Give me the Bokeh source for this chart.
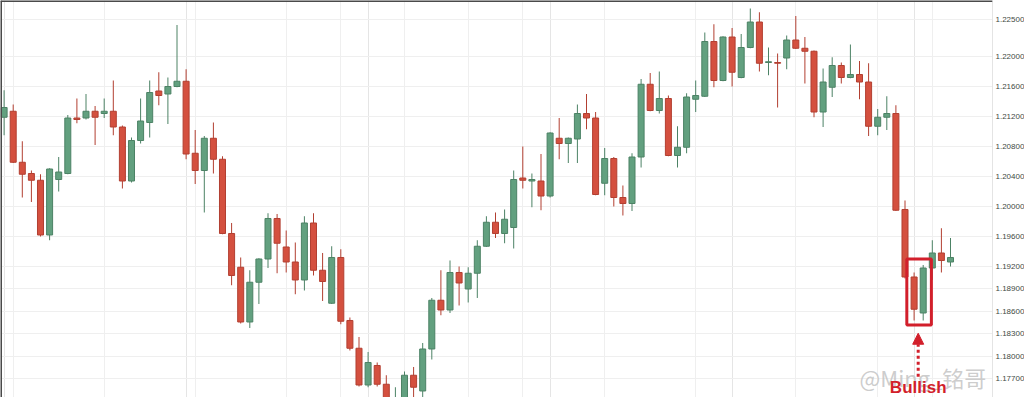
from bokeh.plotting import figure
from bokeh.models import (Range1d, FixedTicker, Grid, Span, Arrow, NormalHead,
                          BoxAnnotation, Label, NumeralTickFormatter, ColumnDataSource)
from bokeh.embed import file_html
from bokeh.resources import INLINE

# ---- data (EUR/USD style daily candles) ----
opens = [1.2119, 1.2127, 1.2059, 1.2044, 1.2035, 1.1962, 1.2036, 1.2044, 1.2118, 1.2118,
         1.2127, 1.2124, 1.2127, 1.2106, 1.2034, 1.2088, 1.2112, 1.2154, 1.2150, 1.2160,
         1.2167, 1.2071, 1.2048, 1.2091, 1.2063, 1.1964, 1.1919, 1.1846, 1.1899, 1.1930,
         1.1984, 1.1946, 1.1926, 1.1902, 1.1978, 1.1915, 1.1871, 1.1932, 1.1848, 1.1811,
         1.1762, 1.1788, 1.1763, 1.1731, 1.1739, 1.1775, 1.1754, 1.1810, 1.1875, 1.1862,
         1.1912, 1.1890, 1.1911, 1.1947, 1.1979, 1.1964, 1.1972, 1.2038, 1.2034, 1.2034,
         1.2014, 1.2091, 1.2084, 1.2090, 1.2124, 1.2118, 1.2031, 1.2064, 1.2012, 1.2004,
         1.2066, 1.2163, 1.2128, 1.2144, 1.2068, 1.2079, 1.2143, 1.2147, 1.2220, 1.2168,
         1.2226, 1.2172, 1.2212, 1.2246, 1.2192, 1.2192, 1.2198, 1.2222, 1.2211, 1.2207,
         1.2126, 1.2159, 1.2188, 1.2172, 1.2176, 1.2166, 1.2107, 1.2119, 1.2124, 1.1996,
         1.1906, 1.1858, 1.1918, 1.1938, 1.1926]

highs = [1.2155, 1.2136, 1.2087, 1.2048, 1.2043, 1.2051, 1.2066, 1.2122, 1.2144, 1.2150,
         1.2134, 1.2144, 1.2168, 1.2108, 1.2092, 1.2144, 1.2168, 1.2179, 1.2172, 1.2242,
         1.2183, 1.2102, 1.2094, 1.2112, 1.2067, 1.1978, 1.1932, 1.1915, 1.1931, 1.1991,
         1.1990, 1.1968, 1.1952, 1.1987, 1.1991, 1.1938, 1.1947, 1.1943, 1.1852, 1.1826,
         1.1806, 1.1792, 1.1775, 1.1759, 1.1780, 1.1786, 1.1818, 1.1878, 1.1915, 1.1928,
         1.1920, 1.1919, 1.1955, 1.1987, 1.1992, 1.1996, 1.2048, 1.2080, 1.2044, 1.2070,
         1.2099, 1.2118, 1.2092, 1.2136, 1.2150, 1.2126, 1.2078, 1.2066, 1.2028, 1.2071,
         1.2170, 1.2178, 1.2180, 1.2148, 1.2107, 1.2151, 1.2168, 1.2232, 1.2243, 1.2227,
         1.2238, 1.2230, 1.2264, 1.2259, 1.2212, 1.2204, 1.2228, 1.2254, 1.2226, 1.2208,
         1.2184, 1.2199, 1.2192, 1.2216, 1.2194, 1.2191, 1.2130, 1.2147, 1.2135, 1.2008,
         1.1912, 1.1922, 1.1955, 1.1971, 1.1958]

lows = [1.2095, 1.2058, 1.2012, 1.2006, 1.1960, 1.1955, 1.2020, 1.2043, 1.2111, 1.2116,
        1.2082, 1.2118, 1.2095, 1.2024, 1.2032, 1.2084, 1.2092, 1.2135, 1.2110, 1.2159,
        1.2063, 1.2030, 1.1992, 1.2044, 1.1963, 1.1895, 1.1844, 1.1838, 1.1870, 1.1918,
        1.1911, 1.1912, 1.1883, 1.1888, 1.1908, 1.1874, 1.1870, 1.1843, 1.1808, 1.1760,
        1.1759, 1.1760, 1.1735, 1.1726, 1.1735, 1.1746, 1.1746, 1.1796, 1.1855, 1.1858,
        1.1868, 1.1872, 1.1878, 1.1946, 1.1958, 1.1951, 1.1944, 1.2024, 1.1999, 1.1995,
        1.2012, 1.2063, 1.2058, 1.2058, 1.2103, 1.2015, 1.2015, 1.2000, 1.1988, 1.1994,
        1.2052, 1.2127, 1.2124, 1.2067, 1.2052, 1.2071, 1.2126, 1.2146, 1.2159, 1.2167,
        1.2160, 1.2171, 1.2211, 1.2180, 1.2175, 1.2132, 1.2183, 1.2210, 1.2164, 1.2119,
        1.2106, 1.2146, 1.2164, 1.2171, 1.2143, 1.2094, 1.2095, 1.2102, 1.1994, 1.1904,
        1.1848, 1.1848, 1.1902, 1.1912, 1.1920]

closes = [1.2132, 1.2059, 1.2043, 1.2035, 1.1962, 1.2050, 1.2046, 1.2118, 1.2116, 1.2127,
          1.2119, 1.2127, 1.2106, 1.2034, 1.2088, 1.2114, 1.2152, 1.2148, 1.2160, 1.2167,
          1.2070, 1.2048, 1.2091, 1.2063, 1.1964, 1.1908, 1.1846, 1.1899, 1.1930, 1.1984,
          1.1951, 1.1926, 1.1902, 1.1978, 1.1915, 1.1900, 1.1932, 1.1847, 1.1811, 1.1762,
          1.1792, 1.1763, 1.1742, 1.1744, 1.1775, 1.1759, 1.1810, 1.1875, 1.1862, 1.1912,
          1.1898, 1.1911, 1.1947, 1.1979, 1.1964, 1.1983, 1.2036, 1.2035, 1.2036, 1.2014,
          1.2098, 1.2084, 1.2091, 1.2124, 1.2118, 1.2016, 1.2064, 1.2012, 1.2004, 1.2066,
          1.2163, 1.2128, 1.2144, 1.2068, 1.2079, 1.2146, 1.2148, 1.2220, 1.2168, 1.2226,
          1.2179, 1.2212, 1.2246, 1.2191, 1.2193, 1.2191, 1.2222, 1.2211, 1.2207, 1.2126,
          1.2166, 1.2188, 1.2172, 1.2176, 1.2166, 1.2107, 1.2119, 1.2124, 1.1995, 1.1906,
          1.1863, 1.1918, 1.1938, 1.1928, 1.1932]

price_ticks = [1.225, 1.220, 1.216, 1.212, 1.208, 1.204, 1.200, 1.196, 1.192,
               1.189, 1.186, 1.183, 1.180, 1.177]
period_breaks = [1, 11, 21, 31, 37, 44, 51, 57, 66, 76, 87, 96, 102]
pattern_bars = [100, 101]          # the bullish pattern that is boxed
pattern_label = "Bullish"
watermark = "@Ming_铭哥"

# ---- styling ----
GREEN, GREEN_EDGE = "#62a07f", "#4c8265"
RED, RED_EDGE = "#d4503f", "#b23f31"
ANNOT = "#d21f2b"
FRAME_W, FRAME_H = 992, 397
STEP, X0 = 9.1, 3.6
Y_TOP, Y_BOT = 1.227467, 1.174533

idx = list(range(len(opens)))
up = [c > o for o, c in zip(opens, closes)]
src = ColumnDataSource(dict(
    x=idx, o=opens, h=highs, l=lows, c=closes,
    top=[max(o, c) for o, c in zip(opens, closes)],
    bot=[min(o, c) for o, c in zip(opens, closes)],
    fill=[GREEN if u else RED for u in up],
    edge=[GREEN_EDGE if u else RED_EDGE for u in up],
))

x_start = -X0 / STEP
x_end = (FRAME_W - X0) / STEP
p = figure(frame_width=FRAME_W, frame_height=FRAME_H,
           x_range=Range1d(x_start, x_end), y_range=Range1d(Y_BOT, Y_TOP),
           x_axis_location=None, y_axis_location="right",
           toolbar_location=None, output_backend="svg", min_border=0)
p.outline_line_color = None
p.background_fill_color = "white"
p.border_fill_color = "white"

ax = p.yaxis[0]
ax.ticker = FixedTicker(ticks=price_ticks)
ax.formatter = NumeralTickFormatter(format="0.00000")
ax.major_label_text_font_size = "8px"
ax.major_label_text_color = "#3f4a44"
ax.major_label_text_font = "Liberation Sans"
ax.major_label_standoff = 3
ax.major_tick_out = 0
ax.major_tick_in = 0
ax.minor_tick_out = 0
ax.minor_tick_in = 0
ax.axis_line_color = "#e4e4e4"
p.ygrid.grid_line_color = "#efefef"

p.add_layout(Grid(dimension=0, ticker=FixedTicker(ticks=period_breaks),
                  grid_line_color="#efefef"))

p.segment(x0="x", y0="l", x1="x", y1="h", source=src, line_color="edge", line_width=1)
p.vbar(x="x", width=0.66, top="top", bottom="bot", source=src,
       fill_color="fill", line_color="edge", line_width=1)

# frame edges of the screenshot
p.add_layout(Span(location=Y_TOP, dimension="width", line_color="#4a4a4a", line_width=3))
p.add_layout(Span(location=x_start, dimension="height", line_color="#4a4a4a", line_width=3))

# watermark
p.add_layout(Label(x=94.0, y=1.1772, text=watermark, text_align="left",
                   text_baseline="alphabetic", text_font_size="22px",
                   text_color="#c4c4c4", text_alpha=0.85,
                   text_font="Noto Sans CJK SC"))

# annotation: box around the pattern
lo = min(lows[i] for i in pattern_bars)
hi = max(highs[i] for i in pattern_bars)
p.add_layout(BoxAnnotation(left=pattern_bars[0] - 0.8, right=pattern_bars[-1] + 0.9,
                           bottom=lo - 0.0006, top=hi + 0.0008,
                           fill_alpha=0, line_color=ANNOT, line_alpha=1.0, line_width=3))
ax_x = (pattern_bars[0] + pattern_bars[-1]) / 2 - 0.05
p.add_layout(Arrow(end=NormalHead(size=11, fill_color=ANNOT, line_color=ANNOT),
                   x_start=ax_x, y_start=1.1773, x_end=ax_x, y_end=lo - 0.0017,
                   line_color=ANNOT, line_width=3, line_dash="3 3"))
p.add_layout(Label(x=ax_x, y=Y_BOT + 0.0001, text=pattern_label, text_align="center",
                   text_baseline="bottom", text_font_size="17px",
                   text_font_style="bold", text_color=ANNOT,
                   text_font="Liberation Sans"))

open("out.html", "w").write(file_html(p, INLINE))
